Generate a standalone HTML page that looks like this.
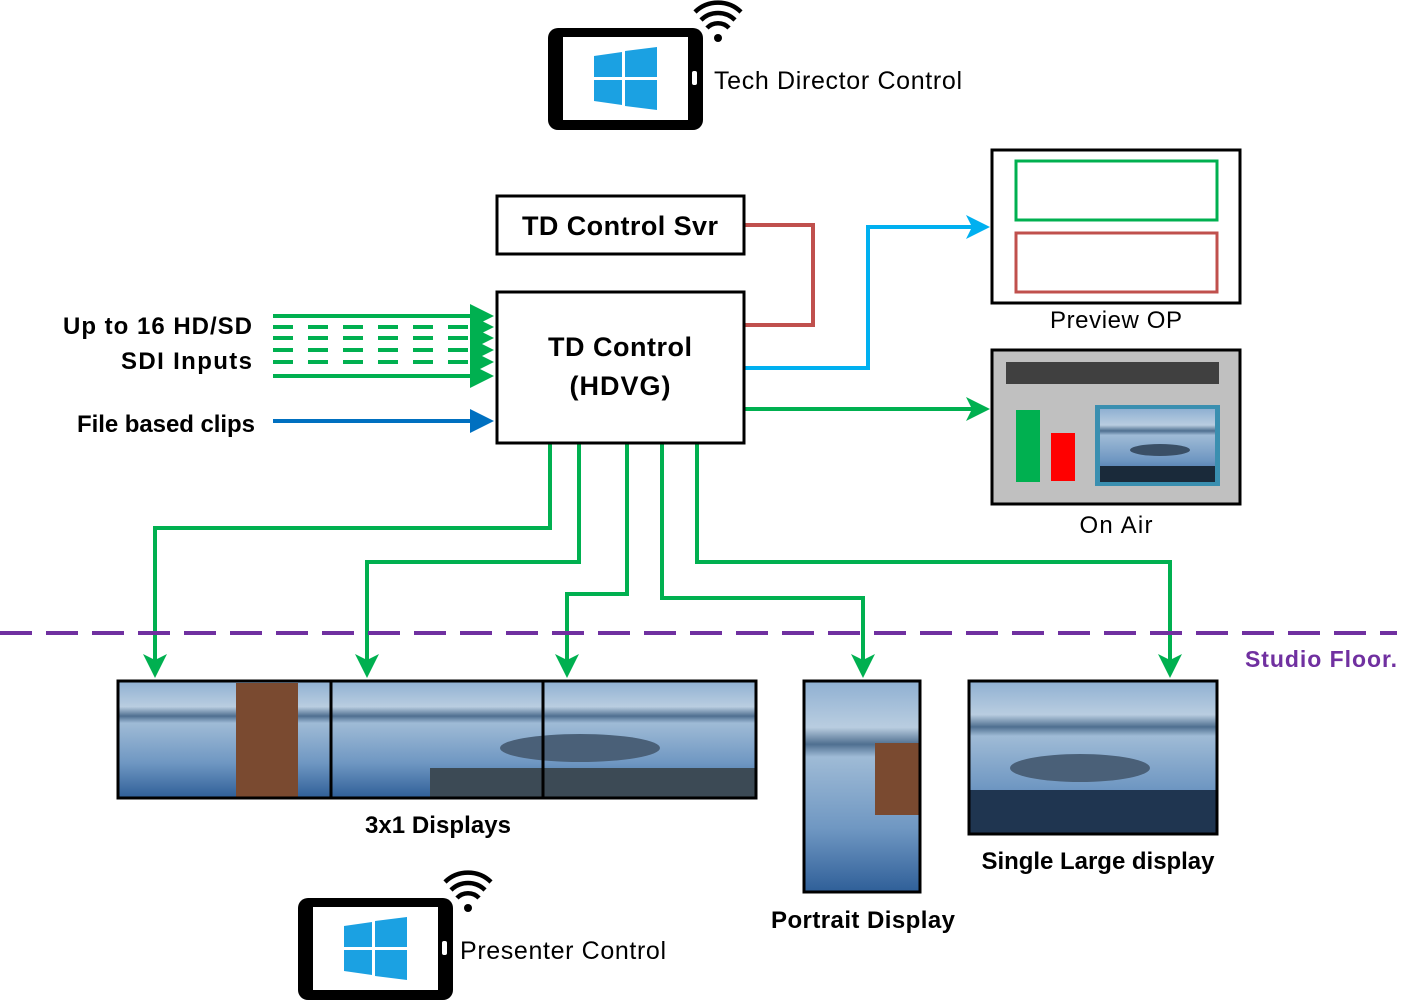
<!DOCTYPE html>
<html><head><meta charset="utf-8"><style>
html,body{margin:0;padding:0;background:#fff;}
svg{display:block;font-family:"Liberation Sans",sans-serif;}
</style></head><body>
<svg width="1417" height="1006" viewBox="0 0 1417 1006" xmlns="http://www.w3.org/2000/svg">
<defs>
<marker id="ag" markerWidth="6" markerHeight="6" refX="5" refY="3" orient="auto" markerUnits="strokeWidth"><path d="M0,0 L6,3 L0,6 L1.5,3z" fill="#00b050"/></marker>
<marker id="ab" markerWidth="6" markerHeight="6" refX="5" refY="3" orient="auto" markerUnits="strokeWidth"><path d="M0,0 L6,3 L0,6 L1.5,3z" fill="#00b0f0"/></marker>
<marker id="ad" markerWidth="6" markerHeight="6" refX="5" refY="3" orient="auto" markerUnits="strokeWidth"><path d="M0,0 L6,3 L0,6 z" fill="#0070c0"/></marker>
<marker id="at" markerWidth="6" markerHeight="6" refX="5" refY="3" orient="auto" markerUnits="strokeWidth"><path d="M0,0 L6,3 L0,6 z" fill="#00b050"/></marker>
<linearGradient id="ph" x1="0" y1="0" x2="0" y2="1">
<stop offset="0" stop-color="#8fb0d2"/><stop offset="0.22" stop-color="#b9cde0"/><stop offset="0.3" stop-color="#4f6f90"/><stop offset="0.36" stop-color="#9fbbd6"/><stop offset="0.7" stop-color="#6f97c2"/><stop offset="1" stop-color="#2f5f98"/>
</linearGradient>
<g id="tab">
<rect x="548" y="28" width="155" height="102" rx="10" fill="#000"/>
<rect x="563" y="37" width="125" height="83" fill="#fff"/>
<rect x="692" y="71" width="5" height="14" rx="2" fill="#fff"/>
<path d="M594,56 L622,52 L622,77 L594,77Z M625,51 L657,47 L657,77 L625,77Z M594,80 L622,80 L622,105 L594,101Z M625,80 L657,80 L657,110 L625,106Z" fill="#1ba1e2"/>
<circle cx="718" cy="38" r="4" fill="#000"/>
<path d="M707,28 A15,15 0 0 1 729,28" stroke="#000" stroke-width="4.5" fill="none"/>
<path d="M701,20 A24,24 0 0 1 735,20" stroke="#000" stroke-width="4.5" fill="none"/>
<path d="M695,12 A33,33 0 0 1 741,12" stroke="#000" stroke-width="4.5" fill="none"/>
</g>
</defs>

<use href="#tab"/>
<text x="714" y="89" font-size="25" textLength="248" fill="#000">Tech Director Control</text>
<use href="#tab" transform="translate(-250,870)"/>
<text x="460" y="959" font-size="25" textLength="206" fill="#000">Presenter Control</text>

<!-- connectors -->
<path d="M745,225 H813 V325 H745" stroke="#c0504d" stroke-width="4" fill="none"/>
<path d="M745,368 H868 V227 H986" stroke="#00b0f0" stroke-width="4" fill="none" marker-end="url(#ab)"/>
<path d="M745,409 H986" stroke="#00b050" stroke-width="4" fill="none" marker-end="url(#ag)"/>

<g stroke="#00b050" stroke-width="4" fill="none">
<path d="M273,316 H490" marker-end="url(#at)"/>
<path d="M273,376 H490" marker-end="url(#at)"/>
<path d="M273,327 H490" stroke-dasharray="20,15" marker-end="url(#at)"/>
<path d="M273,338 H490" stroke-dasharray="20,15" marker-end="url(#at)"/>
<path d="M273,350 H490" stroke-dasharray="20,15" marker-end="url(#at)"/>
<path d="M273,362 H490" stroke-dasharray="20,15" marker-end="url(#at)"/>
</g>
<path d="M273,421 H490" stroke="#0070c0" stroke-width="4" fill="none" marker-end="url(#ad)"/>

<g stroke="#00b050" stroke-width="4" fill="none">
<path d="M550,444 V528 H155 V674" marker-end="url(#ag)"/>
<path d="M579,444 V562 H367 V674" marker-end="url(#ag)"/>
<path d="M627,444 V594 H567 V674" marker-end="url(#ag)"/>
<path d="M662,444 V598 H863 V674" marker-end="url(#ag)"/>
<path d="M697,444 V562 H1170 V674" marker-end="url(#ag)"/>
</g>

<!-- boxes -->
<rect x="497" y="196" width="247" height="58" fill="#fff" stroke="#000" stroke-width="3"/>
<text x="620" y="235" font-size="27" font-weight="bold" text-anchor="middle" textLength="196">TD Control Svr</text>
<rect x="497" y="292" width="247" height="151" fill="#fff" stroke="#000" stroke-width="3"/>
<text x="620" y="356" font-size="27" font-weight="bold" text-anchor="middle" textLength="144">TD Control</text>
<text x="620" y="395" font-size="27" font-weight="bold" text-anchor="middle" textLength="101">(HDVG)</text>

<text x="252" y="334" font-size="24" font-weight="bold" text-anchor="end" textLength="189">Up to 16 HD/SD</text>
<text x="252" y="369" font-size="24" font-weight="bold" text-anchor="end" textLength="131">SDI  Inputs</text>
<text x="255" y="432" font-size="24" font-weight="bold" text-anchor="end" textLength="178">File based clips</text>

<!-- Preview -->
<rect x="992" y="150" width="248" height="153" fill="#fff" stroke="#000" stroke-width="3"/>
<rect x="1016" y="161" width="201" height="59" fill="none" stroke="#00b050" stroke-width="3"/>
<rect x="1016" y="233" width="201" height="59" fill="none" stroke="#c0504d" stroke-width="3"/>
<text x="1116" y="328" font-size="24" text-anchor="middle" textLength="132">Preview OP</text>

<!-- On Air -->
<rect x="992" y="350" width="248" height="154" fill="#c0c0c0" stroke="#000" stroke-width="3"/>
<rect x="1006" y="362" width="213" height="22" fill="#404040"/>
<rect x="1016" y="410" width="24" height="72" fill="#00b050"/>
<rect x="1051" y="433" width="24" height="48" fill="#ff0000"/>
<rect x="1095" y="405" width="125" height="81" fill="#3a8fb0"/>
<rect x="1100" y="409" width="115" height="73" fill="url(#ph)"/>
<rect x="1100" y="466" width="115" height="16" fill="#1a2a3a"/>
<ellipse cx="1160" cy="450" rx="30" ry="6" fill="#3a4f66"/>
<text x="1116" y="533" font-size="24" text-anchor="middle" textLength="73">On Air</text>

<!-- studio floor -->
<path d="M0,633 H1397" stroke="#7030a0" stroke-width="4" stroke-dasharray="32,14"/>
<text x="1397" y="667" font-size="23" font-weight="bold" fill="#7030a0" text-anchor="end" textLength="152">Studio Floor.</text>

<!-- 3x1 -->
<rect x="118" y="681" width="638" height="117" fill="url(#ph)"/>
<rect x="236" y="683" width="62" height="115" fill="#7a4a30"/>
<rect x="430" y="768" width="326" height="30" fill="#3c4a55"/>
<ellipse cx="580" cy="748" rx="80" ry="14" fill="#4a6078"/>
<rect x="118" y="681" width="638" height="117" fill="none" stroke="#000" stroke-width="3"/>
<path d="M331,681 V798 M543,681 V798" stroke="#000" stroke-width="3"/>
<text x="438" y="833" font-size="24" font-weight="bold" text-anchor="middle" textLength="146">3x1 Displays</text>

<!-- portrait -->
<rect x="804" y="681" width="116" height="211" fill="url(#ph)"/>
<rect x="875" y="743" width="45" height="72" fill="#7a4a30"/>
<rect x="804" y="681" width="116" height="211" fill="none" stroke="#000" stroke-width="3"/>
<text x="863" y="928" font-size="24" font-weight="bold" text-anchor="middle" textLength="184">Portrait Display</text>

<!-- single -->
<rect x="969" y="681" width="248" height="153" fill="url(#ph)"/>
<rect x="969" y="790" width="248" height="44" fill="#1f3550"/>
<ellipse cx="1080" cy="768" rx="70" ry="14" fill="#4a6078"/>
<rect x="969" y="681" width="248" height="153" fill="none" stroke="#000" stroke-width="3"/>
<text x="1098" y="869" font-size="24" font-weight="bold" text-anchor="middle" textLength="233">Single Large display</text>
</svg>
</body></html>
